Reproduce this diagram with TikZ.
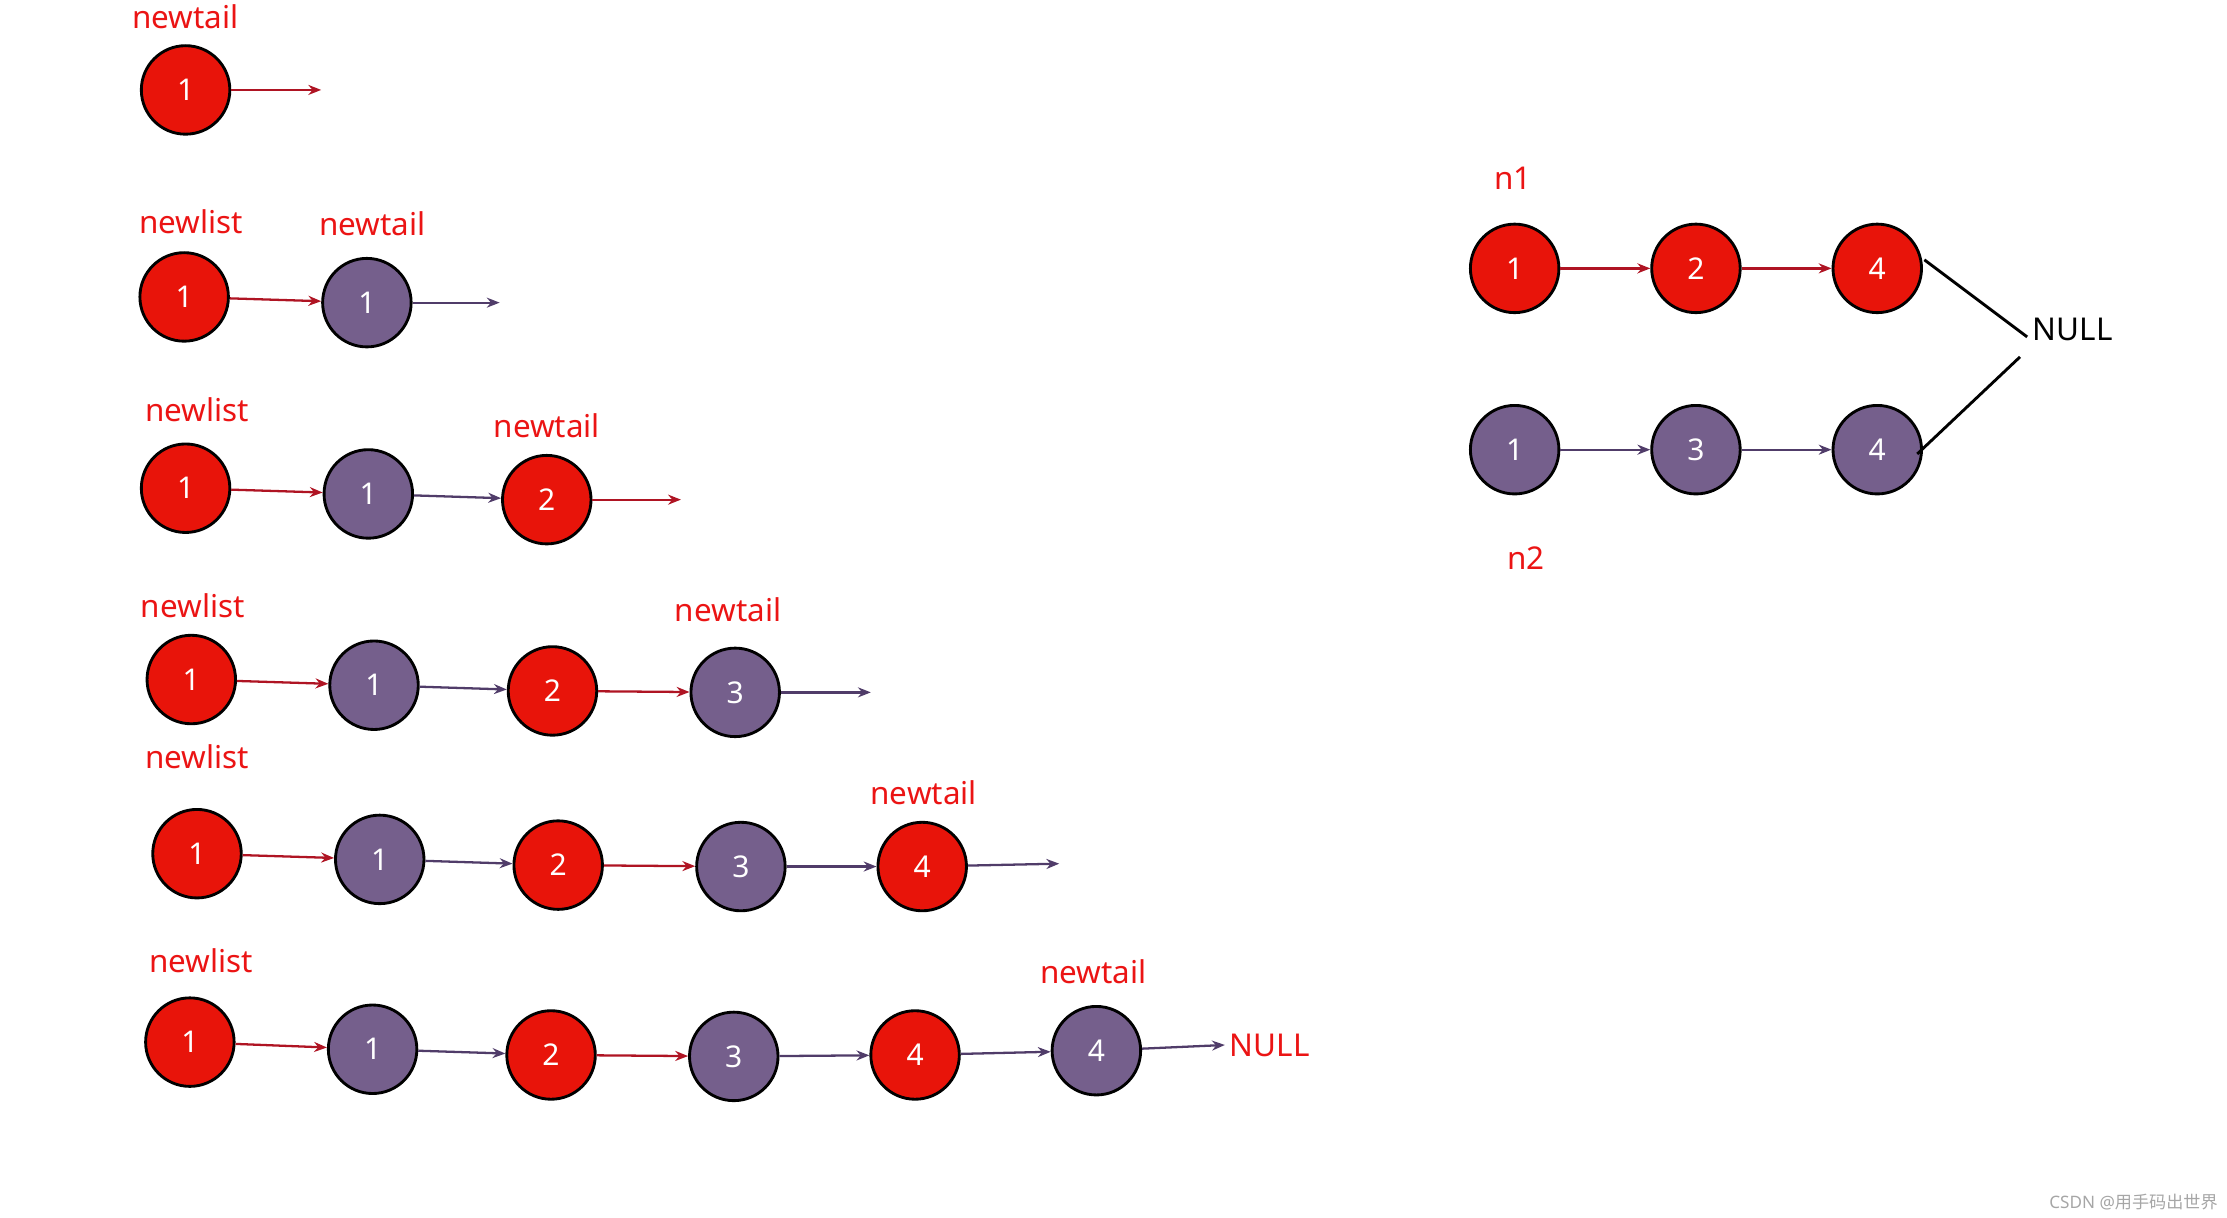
\documentclass[tikz,border=0pt]{standalone}
\usepackage{fontspec}
\setmainfont{Noto Sans}
\newfontfamily\cjk{Noto Sans CJK SC}
\usetikzlibrary{arrows.meta}
\definecolor{nred}{RGB}{232,20,10}
\definecolor{npur}{RGB}{117,95,140}
\definecolor{ared}{RGB}{175,20,35}
\definecolor{apur}{RGB}{80,60,105}
\definecolor{lred}{RGB}{235,20,20}
\begin{document}
\begin{tikzpicture}[x=1pt,y=-1pt,
  R/.style={circle,draw=black,line width=2pt,fill=nred,minimum size=62pt,inner sep=0pt,text=white,font=\fontsize{21}{21}\selectfont\bfseries},
  P/.style={R,fill=npur},
  ar/.style={-{Stealth[length=9pt,width=7pt]},line width=1.6pt,draw=ared},
  ap/.style={ar,draw=apur},
  lab/.style={text=lred,font=\fontsize{22}{22}\selectfont}]
\useasboundingbox (0,0) rectangle (1560,853);
% row 1
\node[R] (a1) at (130,63) {1};
\coordinate (a1e) at (225,63);
\draw[ar] (a1) -- (a1e);
\node[lab] (a1l) at (130,12) {newtail};
% row 2
\node[R] (b1) at (129,208) {1};
\node[P] (b2) at (257,212) {1};
\coordinate (b2e) at (350,212);
\draw[ar] (b1) -- (b2); \draw[ap] (b2) -- (b2e);
\node[lab] (b1l) at (134,155) {newlist};
\node[lab] (b2l) at (261,157) {newtail};
% row 3
\node[R] (c1) at (130,342) {1};
\node[P] (c2) at (258,346) {1};
\node[R] (c3) at (383,350) {2};
\coordinate (c3e) at (477,350);
\draw[ar] (c1) -- (c2); \draw[ap] (c2) -- (c3); \draw[ar] (c3) -- (c3e);
\node[lab] (c1l) at (138,287) {newlist};
\node[lab] (c3l) at (383,298) {newtail};
% row 4
\node[R] (d1) at (134,476) {1};
\node[P] (d2) at (262,480) {1};
\node[R] (d3) at (387,484) {2};
\node[P] (d4) at (515,485) {3};
\coordinate (d4e) at (610,485);
\draw[ar] (d1) -- (d2); \draw[ap] (d2) -- (d3); \draw[ar] (d3) -- (d4); \draw[ap] (d4) -- (d4e);
\node[lab] (d1l) at (135,424) {newlist};
\node[lab] (d4l) at (510,427) {newtail};
% row 5
\node[R] (e1) at (138,598) {1};
\node[P] (e2) at (266,602) {1};
\node[R] (e3) at (391,606) {2};
\node[P] (e4) at (519,607) {3};
\node[R] (e5) at (646,607) {4};
\coordinate (e5e) at (742,605);
\draw[ar] (e1) -- (e2); \draw[ap] (e2) -- (e3); \draw[ar] (e3) -- (e4); \draw[ap] (e4) -- (e5); \draw[ap] (e5) -- (e5e);
\node[lab] (e1l) at (138,530) {newlist};
\node[lab] (e5l) at (647,555) {newtail};
% row 6
\node[R] (f1) at (133,730) {1};
\node[P] (f2) at (261,735) {1};
\node[R] (f3) at (386,739) {2};
\node[P] (f4) at (514,740) {3};
\node[R] (f5) at (641,739) {4};
\node[P] (f6) at (768,736) {4};
\node[lab,anchor=west] (fnull) at (858,732) {NULL};
\draw[ar] (f1) -- (f2); \draw[ap] (f2) -- (f3); \draw[ar] (f3) -- (f4); \draw[ap] (f4) -- (f5); \draw[ap] (f5) -- (f6); \draw[ap] (f6) -- (fnull.west);
\node[lab] (f1l) at (141,673) {newlist};
\node[lab] (f6l) at (766,681) {newtail};
% right
\node[lab] (n1) at (1060,125) {n1};
\node[R] (g1) at (1061,188) {1};
\node[R] (g2) at (1188,188) {2};
\node[R] (g3) at (1315,188) {4};
\node[P] (h1) at (1061,315) {1};
\node[P] (h2) at (1188,315) {3};
\node[P] (h3) at (1315,315) {4};
\draw[ar] (g1) -- (g2); \draw[ar] (g2) -- (g3);
\draw[ap] (h1) -- (h2); \draw[ap] (h2) -- (h3);
\node[lab] (n2) at (1069,391) {n2};
\node[font=\fontsize{22}{22}\selectfont] (null) at (1452,231) {NULL};
\coordinate (s1) at (1348,182); \coordinate (s2) at (1420,236);
\coordinate (t1) at (1415,250); \coordinate (t2) at (1343,318);
\draw[line width=2pt] (s1) -- (s2);
\draw[line width=2pt] (t1) -- (t2);
\node[text=gray!70,font=\fontsize{12}{12}\selectfont,anchor=east] (wm) at (1557,842) {CSDN @{\cjk 用手码出世界}};
\end{tikzpicture}
\end{document}
